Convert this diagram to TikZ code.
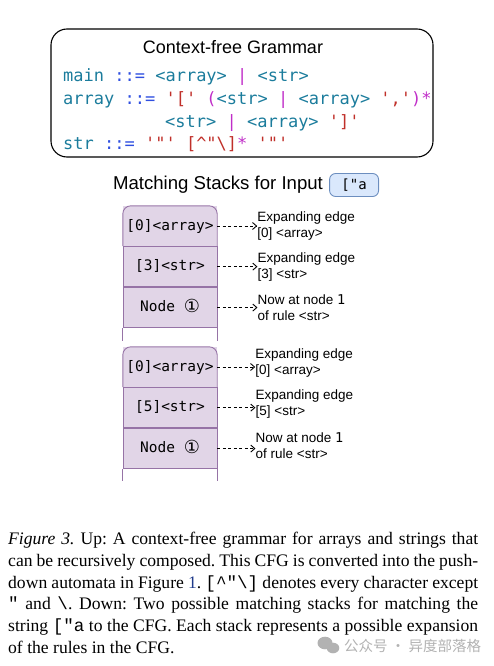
\documentclass[tikz,border=0pt]{standalone}
\usepackage{fontspec}
\setmainfont{Liberation Serif}
\setsansfont{Liberation Sans}
\setmonofont{DejaVu Sans Mono}
\newfontfamily\capmono{Liberation Mono}
\newfontfamily\symfont{DejaVu Sans}
\newfontfamily\cjkfont{Noto Sans CJK SC}
\usepackage{xcolor}
\usepackage{tikz}
\usetikzlibrary{positioning,arrows.meta,calc}
\definecolor{cteal}{HTML}{1B7C9C}
\definecolor{cblue}{HTML}{2F4FE0}
\definecolor{cmag}{HTML}{C02EC8}
\definecolor{cred}{HTML}{C0302A}
\definecolor{stackfill}{HTML}{E1D5E7}
\definecolor{stackline}{HTML}{9673A6}
\definecolor{infill}{HTML}{DAE8FC}
\definecolor{inline}{HTML}{6C8EBF}
\definecolor{linkblue}{HTML}{1F3A8A}
\newcommand{\kw}[1]{\textcolor{cteal}{#1}}
\newcommand{\op}[1]{\textcolor{cblue}{#1}}
\newcommand{\alt}[1]{\textcolor{cmag}{#1}}
\newcommand{\lit}[1]{\textcolor{cred}{#1}}
\newcommand{\circone}{\raisebox{-0.5pt}{\symfont\fontsize{18}{18}\selectfont ①}}

\begin{document}
\begin{tikzpicture}[
  x=1pt, y=-1pt,
  every node/.style={inner sep=0pt},
  gbox/.style={draw, line width=1.1pt, rounded corners=16pt, minimum width=382pt, minimum height=128pt},
  code/.style={anchor=west, font=\fontsize{17}{20}\ttfamily, text height=12pt, text depth=4pt},
  cell/.style={draw=stackline, line width=0.9pt, fill=stackfill, minimum width=94pt, minimum height=40pt, text height=11pt, text depth=3pt, font=\fontsize{14.5}{16}\ttfamily},
  topcell/.style={fill=stackfill, minimum width=94pt, minimum height=40pt, text height=11pt, text depth=3pt, font=\fontsize{14.5}{16}\ttfamily},
  lbl/.style={align=left, font=\fontsize{13.5}{16}\sffamily},
  inbox/.style={draw=inline, line width=0.9pt, fill=infill, rounded corners=6pt, minimum width=49pt, minimum height=23pt, font=\fontsize{14}{16}\ttfamily},
  darr/.style={-{Straight Barb[length=4pt,width=7pt]}, line width=0.9pt, dash pattern=on 3pt off 2.5pt},
  stackline/.style={draw=stackline, line width=0.9pt}
]
  \useasboundingbox (0,0) rectangle (494,666);

  % grammar
  \node[gbox] (cfg) at (242,93) {};
  \node[font=\fontsize{18}{20}\sffamily] (title) at (233,47) {Context-free Grammar};
  \node[code] (g1) at (63,78) {\kw{main} \op{::=} \kw{<array>} \alt{|} \kw{<str>}};
  \node[code] (g2) at (63,101) {\kw{array} \op{::=} \lit{'['} \alt{(}\kw{<str>} \alt{|} \kw{<array>} \lit{','}\alt{)*}};
  \node[code] (g3) at (165,124) {\kw{<str>} \alt{|} \kw{<array>} \lit{']'}};
  \node[code] (g4) at (63,145) {\kw{str} \op{::=} \lit{'"' [\textasciicircum"\textbackslash]}\alt{*} \lit{'"'}};

  % heading
  \node[font=\fontsize{18.6}{20}\sffamily] (head) at (218,185) {Matching Stacks for Input};
  \node[inbox, right=6pt of head] (input) {["a};

  % first stack
  \node[topcell] (s1a) at (170,226) {[0]<array>};
  \node[cell, below=0pt of s1a] (s1b) {[3]<str>};
  \node[cell, below=0pt of s1b] (s1c) {Node \circone};
  \draw[stackline, rounded corners=8pt] (s1a.south west) |- (s1a.north) -| (s1a.south east);
  \draw[stackline] (s1c.south west) -- ++(0,13);
  \draw[stackline] (s1c.south east) -- ++(0,13);

  \node[lbl, right=40pt of s1a] (l1a) {Expanding edge\\{}[0] <array>};
  \node[lbl, right=40pt of s1b] (l1b) {Expanding edge\\{}[3] <str>};
  \node[lbl, right=40pt of s1c] (l1c) {Now at node {\ttfamily 1}\\of rule <str>};
  \draw[darr] (s1a.east) -- (l1a.west);
  \draw[darr] (s1b.east) -- (l1b.west);
  \draw[darr] (s1c.east) -- (l1c.west);

  % second stack
  \node[topcell] (s2a) at (170,367) {[0]<array>};
  \node[cell, below=0pt of s2a] (s2b) {[5]<str>};
  \node[cell, below=0pt of s2b] (s2c) {Node \circone};
  \draw[stackline, rounded corners=8pt] (s2a.south west) |- (s2a.north) -| (s2a.south east);
  \draw[stackline] (s2c.south west) -- ++(0,12);
  \draw[stackline] (s2c.south east) -- ++(0,12);

  \node[lbl, right=38pt of s2a, yshift=4pt] (l2a) {Expanding edge\\{}[0] <array>};
  \node[lbl, right=38pt of s2b, yshift=4pt] (l2b) {Expanding edge\\{}[5] <str>};
  \node[lbl, right=38pt of s2c, yshift=3pt] (l2c) {Now at node {\ttfamily 1}\\of rule <str>};
  \draw[darr] (s2a.east) -- (s2a.east -| l2a.west);
  \draw[darr] (s2b.east) -- (s2b.east -| l2b.west);
  \draw[darr] (s2c.east) -- (s2c.east -| l2c.west);

  % caption
  \node[anchor=north west, text width=470pt, align=justify, font=\fontsize{17.6}{21.8}\selectfont\frenchspacing] (cap) at (8,532) {%
    \textit{Figure 3.} Up: A context-free grammar for arrays and strings that\linebreak
    can be recursively composed. This CFG is converted into the push-\linebreak
    down automata in Figure \textcolor{linkblue}{1}. {\capmono [\textasciicircum"\textbackslash]} denotes every character except\linebreak
    {\capmono "} and {\capmono \textbackslash}. Down: Two possible matching stacks for matching the\linebreak
    string {\capmono ["a} to the CFG. Each stack represents a possible expansion\linebreak
    of the rules in the CFG.};

  % watermark
  \node[anchor=west, font=\fontsize{14.5}{16}\cjkfont, text=black!30] (mark) at (344,646) {公众号 · 异度部落格};
  \fill[black!30] (325,643) ellipse (7.5pt and 6.3pt);
  \fill[black!30] (333,648) ellipse (6.3pt and 5.3pt);
\end{tikzpicture}
\end{document}
